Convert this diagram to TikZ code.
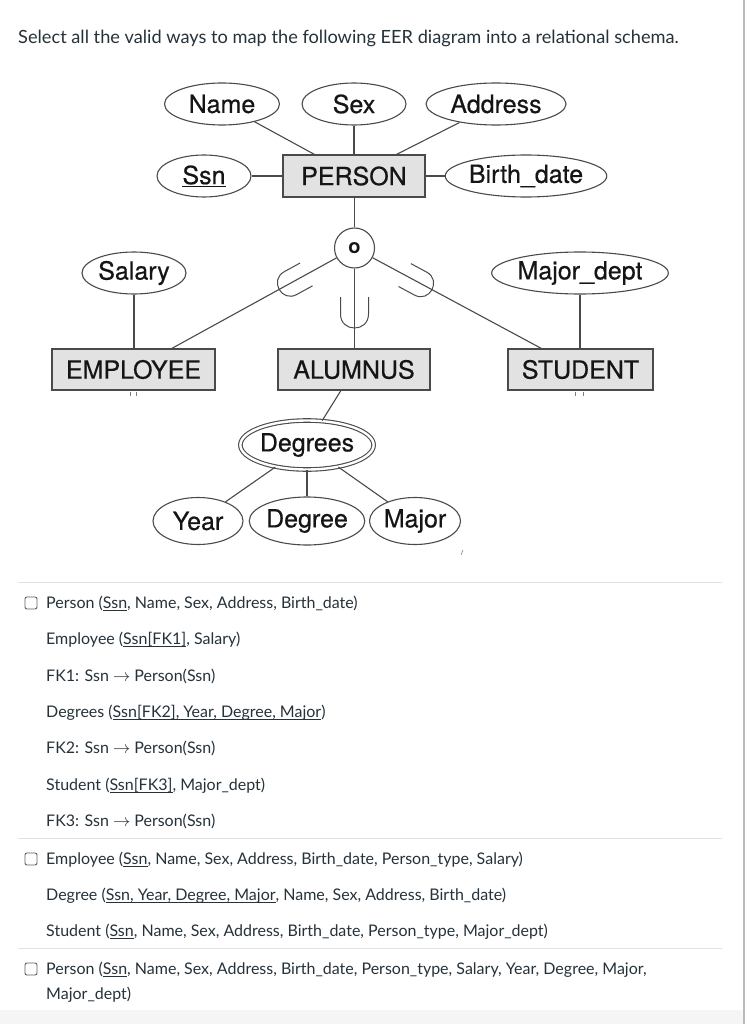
\documentclass[tikz,border=0pt]{standalone}
\usepackage{fontspec}
\setmainfont{TeX Gyre Heros}
\newfontfamily\erfont[FakeBold=0.5]{TeX Gyre Heros}
\newfontfamily\lato{Lato}
\usetikzlibrary{shapes.geometric}
\definecolor{ink}{HTML}{26323A}
\definecolor{erline}{HTML}{4A4A4A}
\definecolor{ertext}{HTML}{151515}
\definecolor{boxfill}{HTML}{E2E2E2}
\newcommand\myul[1]{\setbox0\hbox{#1}\rlap{\rule[-2.2pt]{\wd0}{0.7pt}}\box0}
\tikzset{
  attr/.style={ellipse, draw=erline, line width=1.1pt, inner sep=0pt, text=ertext,
    font=\erfont\fontsize{25}{28}\selectfont},
  ent/.style={rectangle, draw=erline, fill=boxfill, line width=1.1pt, inner sep=0pt, text=ertext,
    font=\erfont\fontsize{25}{28}\selectfont},
  conn/.style={draw=erline, line width=1.1pt},
  cup/.style={draw=erline, line width=1pt},
  opt/.style={anchor=base west, inner sep=0pt, text=ink, font=\lato\fontsize{16}{19}\selectfont},
  cbox/.style={draw=gray!75!black, rounded corners=2pt, line width=0.9pt, minimum size=12pt, inner sep=0pt},
  rulel/.style={draw=gray!22, line width=1pt},
  speck/.style={draw=erline!70, line width=0.6pt}
}
\begin{document}
\begin{tikzpicture}[x=1pt,y=-1pt]
\useasboundingbox (0,0) rectangle (745,1024);
\fill[white] (0,0) rectangle (745,1024);
\fill[gray!8] (0,1010) rectangle (745,1024);
\draw[gray!55, line width=1.3pt] (744,0) -- (744,1024);

% title
\node[anchor=base west, inner sep=0pt, text=ink, font=\lato\fontsize{18.2}{22}\selectfont] (title) at (18,43.5)
  {Select all the valid ways to map the following EER diagram into a relational schema.};

% ---------- EER diagram ----------
\node[attr, minimum width=115pt, minimum height=42pt] (name) at (222,104) {Name};
\node[attr, minimum width=104pt, minimum height=42pt] (sex) at (354,104) {Sex};
\node[attr, minimum width=140pt, minimum height=42pt] (addr) at (496,104) {Address};
\node[attr, minimum width=94pt, minimum height=42pt] (ssn) at (204,176) {\underline{Ssn}};
\node[ent, minimum width=142pt, minimum height=42pt] (person) at (354,176) {PERSON};
\node[attr, minimum width=142pt, minimum height=42pt] (bdate) at (526,176) {Birth\_date};

\node[circle, draw=erline, line width=1.1pt, minimum size=40pt, inner sep=0pt, text=ertext,
  font=\fontsize{20}{22}\selectfont\bfseries] (disj) at (354.5,248) {o};

\node[attr, minimum width=104pt, minimum height=42pt] (salary) at (134,273) {Salary};
\node[attr, minimum width=172pt, minimum height=42pt] (mdept) at (580,273) {Major\_dept};

\node[ent, minimum width=163pt, minimum height=41pt] (employee) at (133.5,369.5) {EMPLOYEE};
\node[ent, minimum width=152pt, minimum height=41pt] (alumnus) at (354,369.5) {ALUMNUS};
\node[ent, minimum width=145pt, minimum height=41pt] (student) at (580.5,369.5) {STUDENT};

\node[attr, double, double distance=2.4pt, minimum width=129pt, minimum height=49pt] (degrees) at (307,445) {Degrees};
\node[attr, minimum width=90pt, minimum height=47pt] (year) at (198,521) {Year};
\node[attr, minimum width=115pt, minimum height=48pt] (degree) at (307,521) {Degree};
\node[attr, minimum width=91pt, minimum height=47pt] (major) at (415,521) {Major};

% connectors
\draw[conn] (name) -- (person);
\draw[conn] (sex) -- (sex |- person.north);
\draw[conn] (addr) -- (person);
\draw[conn] (ssn) -- (person);
\draw[conn] (person) -- (bdate);
\draw[conn] (disj |- person.south) -- (disj);
\draw[conn] (disj) -- (employee);
\draw[conn] (disj) -- (disj |- alumnus.north);
\draw[conn] (disj) -- (student);
\draw[conn] (salary) -- (salary |- employee.north);
\draw[conn] (mdept) -- (mdept |- student.north);
\draw[conn] (alumnus) -- (degrees);
\draw[conn] (degrees) -- (year);
\draw[conn] (degrees) -- (degree);
\draw[conn] (degrees) -- (major);

% subset symbols
\begin{scope}[shift={(disj.center)}, rotate=208.74]
  \draw[cup] (55,13) -- (73,13) .. controls (90.3,13) and (90.3,-13) .. (73,-13) -- (55,-13);
\end{scope}
\begin{scope}[shift={(disj.center)}, rotate=270]
  \draw[cup] (49,14) -- (66,14) .. controls (84.7,14) and (84.7,-14) .. (66,-14) -- (49,-14);
\end{scope}
\begin{scope}[shift={(disj.center)}, rotate=-28.32]
  \draw[cup] (57,13) -- (75,13) .. controls (92.3,13) and (92.3,-13) .. (75,-13) -- (57,-13);
\end{scope}

% small specks
\draw[speck] (130,392) -- (130,396);
\draw[speck] (136,392) -- (136,396);
\draw[speck] (575,392) -- (575,396);
\draw[speck] (583,392) -- (583,396);
\draw[speck] (461,555) -- (463,550);

% ---------- answer options ----------
\draw[rulel] (18,582) -- (722,582);
\node[cbox] (cb1) at (31,603) {};
\node[opt] (o1a) at (46,608.5) {Person (\myul{Ssn}, Name, Sex, Address, Birth\_date)};
\node[opt] (o1b) at (46,644.5) {Employee (\myul{Ssn[FK1]}, Salary)};
\node[opt] (o1c) at (46,681.5) {FK1: Ssn $\rightarrow$ Person(Ssn)};
\node[opt] (o1d) at (46,717.5) {Degrees (\myul{Ssn[FK2], Year, Degree, Major})};
\node[opt] (o1e) at (46,753.5) {FK2: Ssn $\rightarrow$ Person(Ssn)};
\node[opt] (o1f) at (46,790.5) {Student (\myul{Ssn[FK3]}, Major\_dept)};
\node[opt] (o1g) at (46,826.5) {FK3: Ssn $\rightarrow$ Person(Ssn)};

\draw[rulel] (18,838) -- (722,838);
\node[cbox] (cb2) at (31,859) {};
\node[opt] (o2a) at (46,864.5) {Employee (\myul{Ssn}, Name, Sex, Address, Birth\_date, Person\_type, Salary)};
\node[opt] (o2b) at (46,900.5) {Degree (\myul{Ssn, Year, Degree, Major}, Name, Sex, Address, Birth\_date)};
\node[opt] (o2c) at (46,936.5) {Student (\myul{Ssn}, Name, Sex, Address, Birth\_date, Person\_type, Major\_dept)};

\draw[rulel] (18,948) -- (722,948);
\node[cbox] (cb3) at (31,969) {};
\node[opt] (o3a) at (46,974.5) {Person (\myul{Ssn}, Name, Sex, Address, Birth\_date, Person\_type, Salary, Year, Degree, Major,};
\node[opt] (o3b) at (46,999.5) {Major\_dept)};
\end{tikzpicture}
\end{document}
